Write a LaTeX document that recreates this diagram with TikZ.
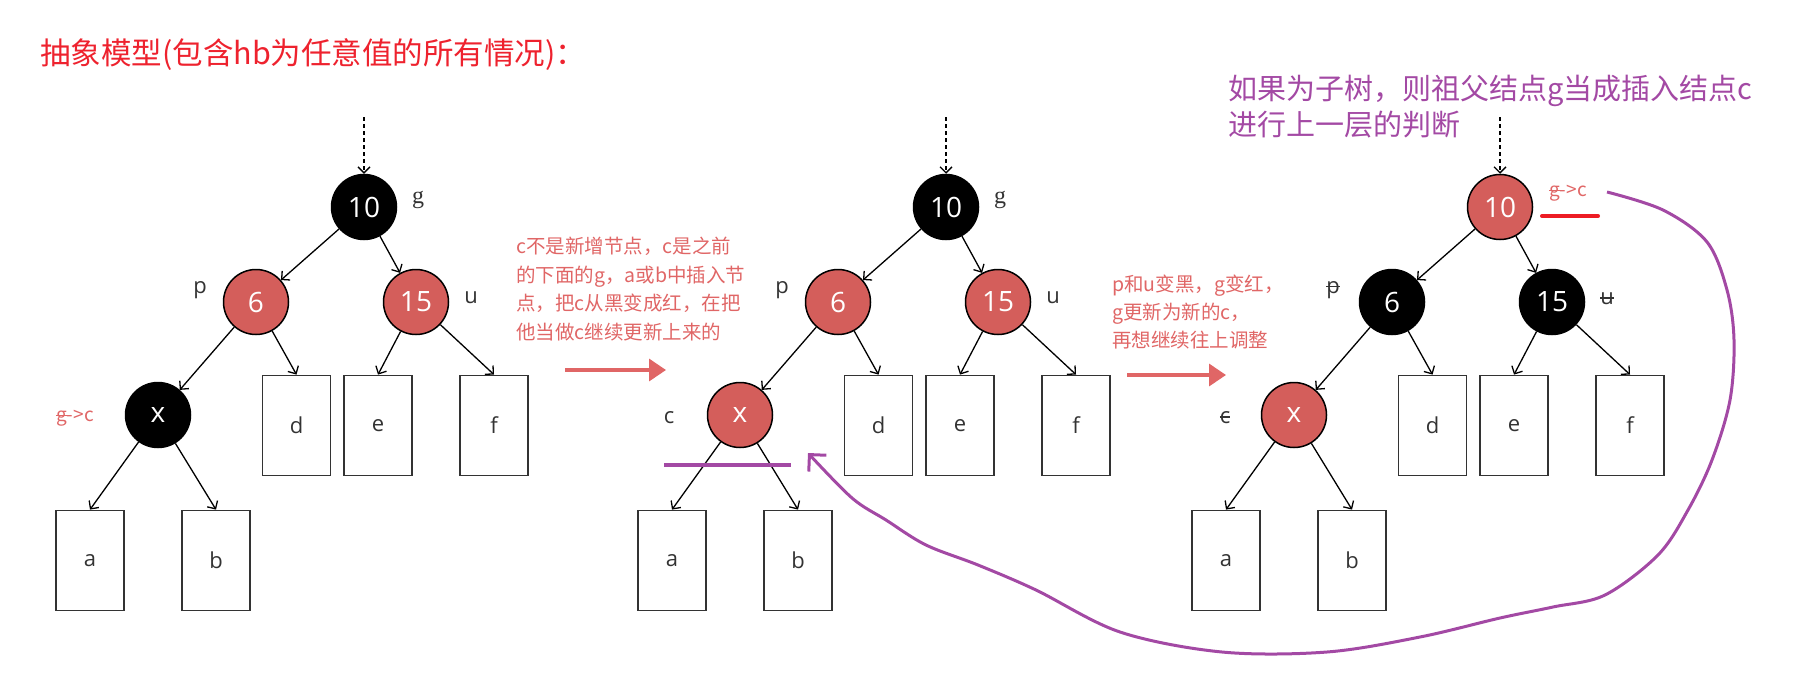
\documentclass[tikz,border=0pt]{standalone}
\usepackage{fontspec}
\setmainfont{Open Sans}
\newfontfamily\cjk{Noto Sans CJK SC}
\newfontfamily\serif{Liberation Serif}
\usetikzlibrary{arrows.meta}

\definecolor{nodered}{RGB}{212,94,91}
\definecolor{notered}{RGB}{224,102,102}
\definecolor{titlered}{RGB}{238,34,46}
\definecolor{markred}{RGB}{237,28,36}
\definecolor{loopviolet}{RGB}{163,73,164}
\definecolor{boxgray}{RGB}{51,51,51}

% letter with a stroke through it
\newcommand{\strk}[1]{\setbox0\hbox{#1}\rlap{\rule[0.27em]{\wd0}{0.07em}}\box0}

% one tree: prefix, x offset, fill of 10, 6, 15, x
\newcommand{\rbtree}[6]{%
  \begin{scope}[shift={(#2,0)}]
    \node[rbnode, fill=#3] (#1g) at (364,207) {10};
    \node[rbnode, fill=#4] (#1p) at (256,302) {6};
    \node[rbnode, fill=#5] (#1u) at (416,302) {15};
    \node[rbnode, fill=#6] (#1x) at (158,415) {x};
    \node[leaf] (#1d) at (296.5,425.5) {d};
    \node[leaf] (#1e) at (378,425.5) {e};
    \node[leaf] (#1f) at (494,425.5) {f};
    \node[leaf] (#1a) at (90,560.5) {a};
    \node[leaf] (#1b) at (216,560.5) {b};
    \coordinate (#1top) at (364,117);
    \draw[entry] (#1top) -- (#1g);
    \draw[edge] (#1g) -- (#1p);
    \draw[edge] (#1g) -- (#1u);
    \draw[edge] (#1p) -- (#1x);
    \draw[edge] (#1p) -- (#1d.north);
    \draw[edge] (#1u) -- (#1e.north);
    \draw[edge] (#1u) -- (#1f.north);
    \draw[edge] (#1x) -- (#1a.north);
    \draw[edge] (#1x) -- (#1b.north);
  \end{scope}}

\begin{document}
\begin{tikzpicture}[x=1pt, y=-1pt,
    rbnode/.style={circle, draw=black, line width=1.5pt, minimum size=65pt, inner sep=0pt,
      text=white, font=\fontsize{28}{30}\selectfont},
    leaf/.style={draw=boxgray, line width=1.8pt, minimum width=68pt, minimum height=100pt,
      inner sep=0pt, text=boxgray, font=\fontsize{22}{24}\selectfont},
    edge/.style={-{Straight Barb[length=6pt,width=12pt]}, line width=1.3pt},
    entry/.style={edge, dash pattern=on 4pt off 3pt},
    lbl/.style={text=boxgray, inner sep=0pt, font=\fontsize{22}{24}\selectfont},
    redlbl/.style={text=notered, inner sep=0pt, font=\cjk\fontsize{19}{22}\selectfont},
    note/.style={text=notered, align=left, inner sep=0pt, anchor=west},
    push/.style={notered, line width=3.5pt, -{Triangle[length=17pt,width=22pt]}},
  ]
  \useasboundingbox (0,0) rectangle (1809,673);

  % title
  \node[anchor=west, inner sep=0pt, text=titlered, font=\cjk\fontsize{30.5}{34}\selectfont]
    (title) at (40,55) {抽象模型(包含hb为任意值的所有情况)：};

  % --------------------------------------------------
  % three trees
  % --------------------------------------------------
  \rbtree{A}{0}{black}{nodered}{nodered}{black}
  \rbtree{B}{582}{black}{nodered}{nodered}{nodered}
  \rbtree{C}{1136}{nodered}{black}{black}{nodered}

  % labels, tree 1
  \node[lbl, font=\serif\fontsize{24}{26}\selectfont] (Aglbl) at ([shift={(54,-7)}]Ag.center) {g};
  \node[lbl] (Aplbl) at ([shift={(-56,-12)}]Ap.center) {p};
  \node[lbl] (Aulbl) at ([shift={(55,-4)}]Au.center) {u};
  \node[redlbl] (Axlbl) at ([shift={(-83,3)}]Ax.center) {\strk{g}->c};

  % labels, tree 2
  \node[lbl, font=\serif\fontsize{24}{26}\selectfont] (Bglbl) at ([shift={(54,-7)}]Bg.center) {g};
  \node[lbl] (Bplbl) at ([shift={(-56,-12)}]Bp.center) {p};
  \node[lbl] (Bulbl) at ([shift={(55,-4)}]Bu.center) {u};
  \node[lbl] (Bxlbl) at ([shift={(-71,3)}]Bx.center) {c};
  \draw[loopviolet, line width=4.5pt] ([shift={(-76,50)}]Bx.center) -- ([shift={(51,50)}]Bx.center);

  % labels, tree 3
  \node[redlbl] (Cglbl) at ([shift={(68,-14)}]Cg.center) {\strk{g}->c};
  \draw[markred, line width=4pt, line cap=round] ([shift={(42,9)}]Cg.center) -- ([shift={(98,9)}]Cg.center);
  \node[lbl] (Cplbl) at ([shift={(-59,-12)}]Cp.center) {\strk{p}};
  \node[lbl] (Culbl) at ([shift={(55,-3)}]Cu.center) {\strk{u}};
  \node[lbl] (Cxlbl) at ([shift={(-69,3)}]Cx.center) {\strk{c}};

  % --------------------------------------------------
  % notes between the trees
  % --------------------------------------------------
  \node[note, font=\cjk\fontsize{19.5}{28.5}\selectfont] (note1) at (516,289)
    {c不是新增节点，c是之前\\的下面的g，a或b中插入节\\点，把c从黑变成红，在把\\他当做c继续更新上来的};
  \coordinate (push1a) at (565,370);
  \coordinate (push1b) at (666,370);
  \draw[push] (push1a) -- (push1b);

  \node[note, font=\cjk\fontsize{19.5}{28}\selectfont] (note2) at (1112,312)
    {p和u变黑，g变红，\\g更新为新的c，\\再想继续往上调整};
  \coordinate (push2a) at (1127,375);
  \coordinate (push2b) at (1226,375);
  \draw[push] (push2a) -- (push2b);

  \node[note, text=loopviolet, font=\cjk\fontsize{29}{36}\selectfont] (note3) at (1228,107)
    {如果为子树，则祖父结点g当成插入结点c\\进行上一层的判断};

  % loop back from g of tree 3 to c of tree 2
  \coordinate (loopstart) at ([shift={(107,-15)}]Cg.center);
  \coordinate (loopend) at ([shift={(68,38)}]Bx.center);
  \draw[loopviolet, line width=3pt, -{Straight Barb[length=12pt,width=24pt]}]
    plot[smooth, tension=0.55] coordinates {(loopstart) (1663,210) (1707,242) (1727,290)
      (1734,340) (1730,400) (1712,460) (1688,510) (1658,555) (1605,595) (1553,607)
      (1500,618) (1420,637) (1327,652) (1222,652) (1120,632) (1036,590) (978,565)
      (926,545) (886,520) (852,498) (loopend)};
\end{tikzpicture}
\end{document}
